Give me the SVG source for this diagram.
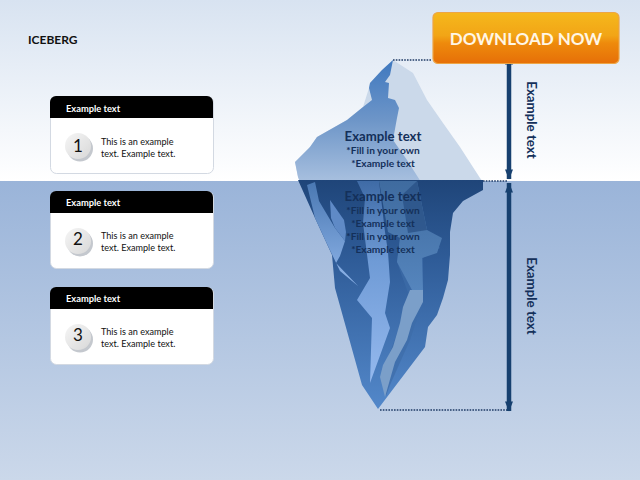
<svg xmlns="http://www.w3.org/2000/svg" width="640" height="480" viewBox="0 0 640 480">
<style>
text{font-family:"Lato","Open Sans","Liberation Sans",sans-serif}
.h{font-size:9.3px;font-weight:700;fill:#fff}
.b{font-size:9.1px;fill:#111}
.n{font-size:17px;fill:#111;text-anchor:middle}
.t{font-size:13.2px;font-weight:700;fill:#14305a;text-anchor:middle}
.s{font-size:10.2px;font-weight:700;fill:#14305a;text-anchor:middle}
.v{font-size:13.3px;font-weight:700;fill:#14305a;text-anchor:middle}
.d{fill:none;stroke:#1f3b66;stroke-width:1.4;stroke-dasharray:1.6 1.2}
.shaft{stroke:#17406f;stroke-width:4.5}
</style>
<defs>
<linearGradient id="sky" x1="0" y1="0" x2="0" y2="1"><stop offset="0" stop-color="#d8e3f1"/><stop offset="1" stop-color="#ffffff"/></linearGradient>
<linearGradient id="sea" x1="0" y1="0" x2="0" y2="1"><stop offset="0" stop-color="#9ab4d9"/><stop offset="1" stop-color="#cbd8ea"/></linearGradient>
<linearGradient id="btn" x1="0" y1="0" x2="0" y2="1"><stop offset="0" stop-color="#f5b81c"/><stop offset=".45" stop-color="#f2a516"/><stop offset=".6" stop-color="#ee8a0c"/><stop offset="1" stop-color="#e66f08"/></linearGradient>
<linearGradient id="topDark" x1="0" y1="0" x2="0" y2="1"><stop offset="0" stop-color="#3f78bf"/><stop offset=".5" stop-color="#6e96c8"/><stop offset="1" stop-color="#a8c0df"/></linearGradient>
<linearGradient id="under" x1="0" y1="0" x2="0" y2="1"><stop offset="0" stop-color="#1f4579"/><stop offset=".35" stop-color="#2f5c98"/><stop offset="1" stop-color="#5388ca"/></linearGradient>
<linearGradient id="mid" x1="0" y1="0" x2="0" y2="1"><stop offset="0" stop-color="#3f6b9f"/><stop offset="1" stop-color="#5585bd"/></linearGradient>
<linearGradient id="ice" x1="0" y1="0" x2="0" y2="1"><stop offset="0" stop-color="#3f6ba6"/><stop offset=".4" stop-color="#6f9bd6"/><stop offset="1" stop-color="#95b9ee"/></linearGradient>
<linearGradient id="stripe" x1="0" y1="0" x2="0" y2="1"><stop offset="0" stop-color="#4a78b2"/><stop offset="1" stop-color="#8fb5ea"/></linearGradient>
<linearGradient id="badge" x1="0" y1="0" x2="1" y2="1"><stop offset="0" stop-color="#f6f6f6"/><stop offset="1" stop-color="#d8d8d8"/></linearGradient>
<marker id="ah" viewBox="0 0 10 8" refX="9.500" refY="4" markerWidth="11" markerHeight="8" markerUnits="userSpaceOnUse" orient="auto-start-reverse"><path d="M0 0L10 4L0 8Z" fill="#17406f"/></marker>
<g id="card"><rect x="0.5" y="0.5" width="163" height="77" rx="6" fill="#fff" stroke="#d3d9e2"/><path d="M0 22V6a6 6 0 0 1 6-6H157a6 6 0 0 1 6 6V22Z" fill="#000"/><circle cx="29" cy="51" r="13" fill="#c4c8ce" transform="translate(1 1.5)"/><circle cx="28" cy="50" r="13" fill="url(#badge)"/></g>
</defs>

<rect id="sky-bg" width="640" height="181" fill="url(#sky)"/>
<rect id="sea-bg" y="181" width="640" height="299" fill="url(#sea)"/>

<text x="28" y="44" font-size="12" font-weight="700" fill="#111">ICEBERG</text>

<g id="iceberg">
<path d="M393 60L413 73L427 100L443 123L460 147L480 178L483 182H300L298 177L295 162L310 147L317 137L347 120L363 107L369 88L370 83L382 70Z" fill="#cbd9ea"/>
<path d="M393 60L382 70L370 83L369 88L372 100L363 107L347 120L317 137L310 147L295 162L298 177L300 182H421L407 160L393 140L397 118L399 108L395 100L388 98L389 83L385 82L390 75Z" fill="url(#topDark)"/>
<path d="M298 180H483V190L463 201L453 213L450 232L450 255L448 280L443 298L437 315L428 327L425 347L378 409L362 385L335 288L332 255L315 218Z" fill="url(#under)"/>
<path d="M417 181L427 230L440 248L423 258L423 300L410 340L390 385L386 396L382 376L388 358L400 325L409 296L397 262L400 238L408 233L402 195Z" fill="#3d6ca8" opacity=".7"/>
<path d="M379 181L417 181L427 230L442 238L437 253L422 258L423 290L412 290L397 262L400 238L388 232Z" fill="url(#mid)"/>
<path d="M417 181L427 230L408 233L402 195Z" fill="#2c5488" opacity=".85"/>
<path d="M410 290L423 290L423 302L412 323L407 340L395 362L385 397L380 377L383 365L393 347L400 323L403 307Z" fill="#7b9fc9"/>
<path d="M357 181L379 181L385 232L388 252L390 282L385 313L390 328L370 383L372 318L357 300L370 278L363 223L365 198Z" fill="url(#ice)"/>
<path d="M307 185L315 182L319 201L335 228L345 241L340 256L336 263L358 286L340 271L328 246L315 218Z" fill="url(#stripe)"/>
<path d="M330 200L344 220L346 232L345 241L335 228L331 218Z" fill="#5f8ac6"/>
</g>

<g id="connectors">
<path class="d" d="M393 60H432"/>
<path class="d" d="M483 181H508"/>
<path class="d" d="M380 410H508"/>
<line class="shaft" x1="509" y1="55" x2="509" y2="179" marker-start="url(#ah)" marker-end="url(#ah)"/>
<line class="shaft" x1="509" y1="183" x2="509" y2="411" marker-start="url(#ah)" marker-end="url(#ah)"/>
</g>

<g id="label-above">
<text class="t" x="383" y="141">Example text</text>
<text class="s" x="383" y="154">*Fill in your own</text>
<text class="s" x="383" y="167">*Example text</text>
</g>
<g id="label-below">
<text class="t" x="383" y="201">Example text</text>
<text class="s" x="383" y="214">*Fill in your own</text>
<text class="s" x="383" y="227">*Example text</text>
<text class="s" x="383" y="240">*Fill in your own</text>
<text class="s" x="383" y="253">*Example text</text>
</g>

<g id="side-label-top"><text class="v" transform="translate(527 120) rotate(90)">Example text</text></g>
<g id="side-label-bottom"><text class="v" transform="translate(527 296) rotate(90)">Example text</text></g>

<g id="download">
<rect x="433" y="12.500" width="186" height="51" rx="5" fill="url(#btn)" stroke="#eda545" stroke-width="1.2"/>
<text x="526" y="44.500" font-size="17" font-weight="700" fill="#fff6e6" text-anchor="middle">DOWNLOAD NOW</text>
</g>

<g id="node-1"><use href="#card" x="50" y="96"/><text class="h" x="66" y="112">Example text</text><text class="n" x="78" y="152">1</text><text class="b" x="101" y="145">This is an example</text><text class="b" x="101" y="157">text. Example text.</text></g>
<g id="node-2"><use href="#card" x="50" y="191"/><text class="h" x="66" y="206">Example text</text><text class="n" x="78" y="245">2</text><text class="b" x="101" y="239">This is an example</text><text class="b" x="101" y="251">text. Example text.</text></g>
<g id="node-3"><use href="#card" x="50" y="287"/><text class="h" x="66" y="302">Example text</text><text class="n" x="78" y="341">3</text><text class="b" x="101" y="335">This is an example</text><text class="b" x="101" y="347">text. Example text.</text></g>
</svg>
